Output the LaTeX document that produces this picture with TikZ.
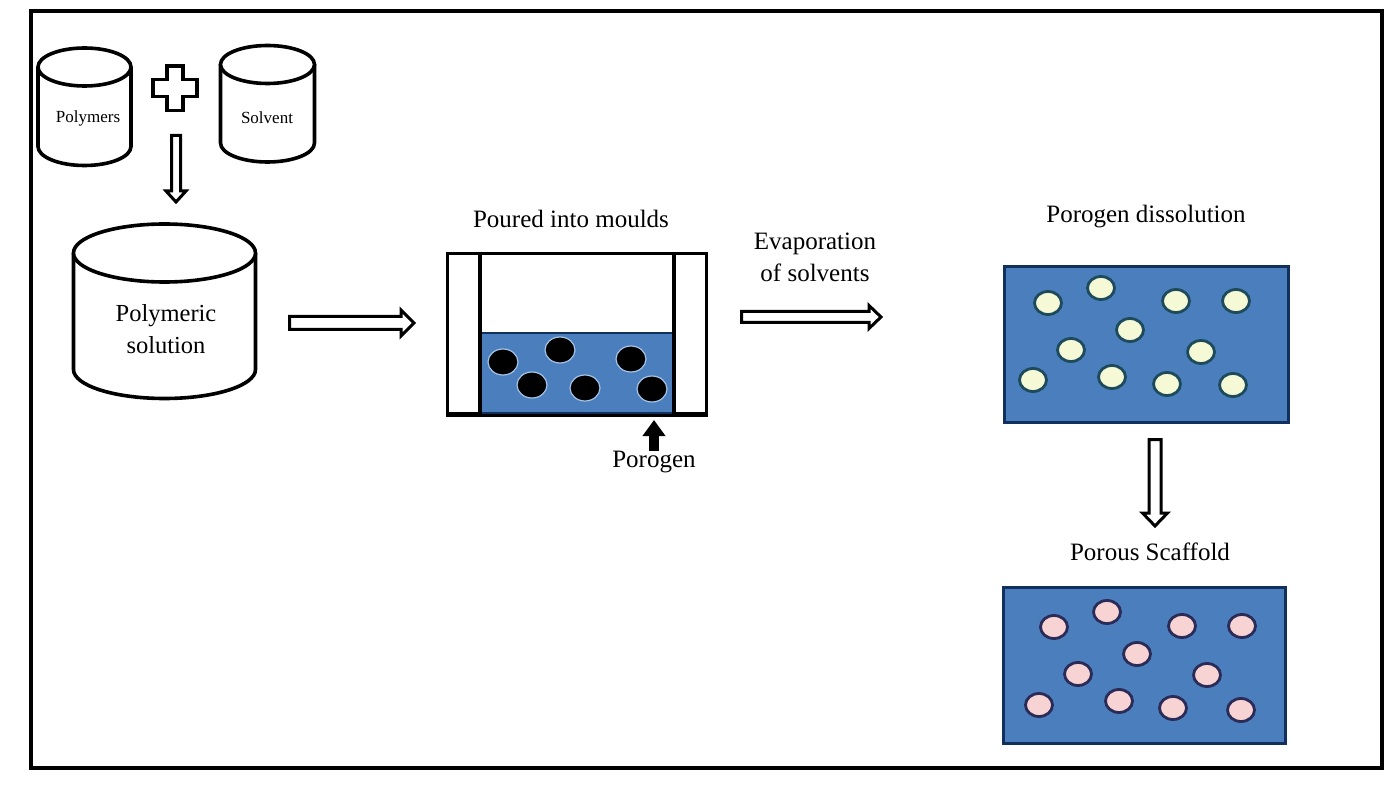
\documentclass[tikz,border=0pt]{standalone}
\usepackage{fontspec}
\setmainfont{Liberation Serif}
\usetikzlibrary{arrows.meta,shapes.geometric,calc}
\definecolor{fillblue}{HTML}{4A7EBD}
\definecolor{edgeblue}{HTML}{12305E}
\definecolor{creamfill}{HTML}{F5F9D6}
\definecolor{creamedge}{HTML}{1E4B5C}
\definecolor{pinkfill}{HTML}{F8D3D3}
\definecolor{pinkedge}{HTML}{2B2B58}
\definecolor{poroedge}{HTML}{A5C4E8}
\newcommand{\fsz}[1]{\fontsize{#1}{#1}\selectfont}
% hollow block arrow: from, to, shaft half width, head half width, head length
\newcommand{\hollowarrow}[5]{%
  \coordinate (hb) at ($(#2)!#5!(#1)$);
  \draw[hollow] ($(#1)!#3!90:(#2)$) -- ($(hb)!#3!90:(#2)$) -- ($(hb)!#4!90:(#2)$) -- (#2)
     -- ($(hb)!#4!-90:(#2)$) -- ($(hb)!#3!-90:(#2)$) -- ($(#1)!#3!-90:(#2)$) -- cycle;}
% cylinder: left x, right x, top y, bottom y, ellipse y radius
\newcommand{\drum}[5]{%
  \pgfmathsetmacro{\drumrx}{(#2-#1)/2}
  \pgfmathsetmacro{\drumcx}{(#1+#2)/2}
  \draw[cyl] (#1,#3+#5) -- (#1,#4-#5) arc[start angle=180,end angle=360,x radius=\drumrx pt,y radius=#5pt] -- (#2,#3+#5);
  \draw[cyl] (\drumcx,#3+#5) ellipse[x radius=\drumrx pt,y radius=#5pt];}
\tikzset{
  x=1pt,y=-1pt,
  cyl/.style={draw=black,fill=white,line width=3.6pt},
  lab/.style={inner sep=0pt,align=center,font=\fsz{25}},
  hollow/.style={draw=black,fill=white,line width=3pt,line join=miter},
  plate/.style={draw=edgeblue,fill=fillblue,line width=2.5pt,inner sep=0pt},
  pore/.style={ellipse,inner sep=0pt,minimum width=27pt,minimum height=23pt,line width=2.8pt},
  cream/.style={pore,draw=creamedge,fill=creamfill},
  pink/.style={pore,draw=pinkedge,fill=pinkfill},
  poro/.style={pore,draw=poroedge,fill=black,line width=1.2pt,minimum width=30pt,minimum height=26pt},
}
\begin{document}
\begin{tikzpicture}
\useasboundingbox (0,0) rectangle (1393,786);
\node[draw=black,line width=4pt,minimum width=1351pt,minimum height=757pt,inner sep=0pt] (frame) at (706.5,389.5) {};

% cylinders
\drum{38}{131}{48}{165.5}{19}
\node[lab,font=\fsz{17}] (polymers) at (88,118) {Polymers};
\drum{220.5}{314.5}{45.5}{162}{19}
\node[lab,font=\fsz{17}] (solvent) at (267,118) {Solvent};
\drum{73.5}{255.5}{224}{398.5}{29}
\node[lab,font=\fsz{24.5}] (big) at (166,329) {Polymeric\\[8pt]solution};

% plus sign
\coordinate (plus) at (175,88);
\draw[line width=3.5pt,fill=white,line join=miter] (plus) ++(-8,-22) -- ++(16,0) -- ++(0,13.5) -- ++(14,0) -- ++(0,17) -- ++(-14,0) -- ++(0,14) -- ++(-16,0) -- ++(0,-14) -- ++(-14,0) -- ++(0,-17) -- ++(14,0) -- cycle;

% mould
\node[draw=black,line width=3.5pt,fill=white,minimum width=259pt,minimum height=160pt,inner sep=0pt] (mould) at (577,333.5) {};
\node[draw=edgeblue,fill=fillblue,line width=2pt,minimum width=192pt,minimum height=80pt,inner sep=0pt] (liquid) at (577,373) {};
\draw[line width=3.5pt] (mould.north west -| 480,0) -- (mould.south west -| 480,0);
\draw[line width=3.5pt] (mould.north west -| 674,0) -- (mould.south west -| 674,0);
\draw[line width=3.5pt] (mould.south west) -- (mould.south east);
\foreach \n/\x/\y in {a/503/362,b/560/350,c/631/359,d/532/385,e/585/388,f/652/389}
  \node[poro] (p\n) at (\x,\y) {};
\node[lab] (mouldtxt) at (571,219) {Poured into moulds};
\node[lab] (porogen) at (654,462) {Porogen};
\coordinate (poroTip) at (654,420);
\draw[line width=10pt,-{Triangle[length=16pt,width=22pt]}] (porogen.north |- 0,451) -- (poroTip);

% evaporation
\node[lab] (evap) at (815,257) {Evaporation\\[7pt]of solvents};

% plate 1
\node[plate,minimum width=284pt,minimum height=156pt] (plateA) at (1146.5,344.5) {};
\foreach \n/\x/\y in {a/1048/303,b/1101/288,c/1176/301,d/1236/301,e/1130/330,f/1071/350,g/1201/352,h/1033/380,i/1112/377,j/1167/384,k/1233/385}
  \node[cream] (c\n) at (\x,\y) {};
\node[lab] (dissol) at (1146,217) {Porogen dissolution};

% plate 2
\node[plate,minimum width=282pt,minimum height=156pt] (plateB) at (1144.5,665.5) {};
\foreach \n/\x/\y in {a/1054/627,b/1107/612,c/1182/626,d/1242/626,e/1137/654,f/1078/674,g/1207/675,h/1039/705,i/1119/701,j/1173/708,k/1241/710}
  \node[pink] (q\n) at (\x,\y) {};
\node[lab] (scaffold) at (1150,552) {Porous Scaffold};

% hollow arrows
\coordinate (a1s) at (176,135.5);
\coordinate (a1e) at (176,202);
\coordinate (a2s) at (289.5,323);
\coordinate (a2e) at (414,323);
\coordinate (a3s) at (741.5,317);
\coordinate (a3e) at (881,317);
\coordinate (a4s) at (1155,439.5);
\coordinate (a4e) at (1155,526);
\hollowarrow{a1s}{a1e}{4.5pt}{10pt}{11pt}
\hollowarrow{a2s}{a2e}{6.5pt}{13pt}{13pt}
\hollowarrow{a3s}{a3e}{5.5pt}{11.5pt}{12pt}
\hollowarrow{a4s}{a4e}{6pt}{12.5pt}{13pt}
\end{tikzpicture}
\end{document}
